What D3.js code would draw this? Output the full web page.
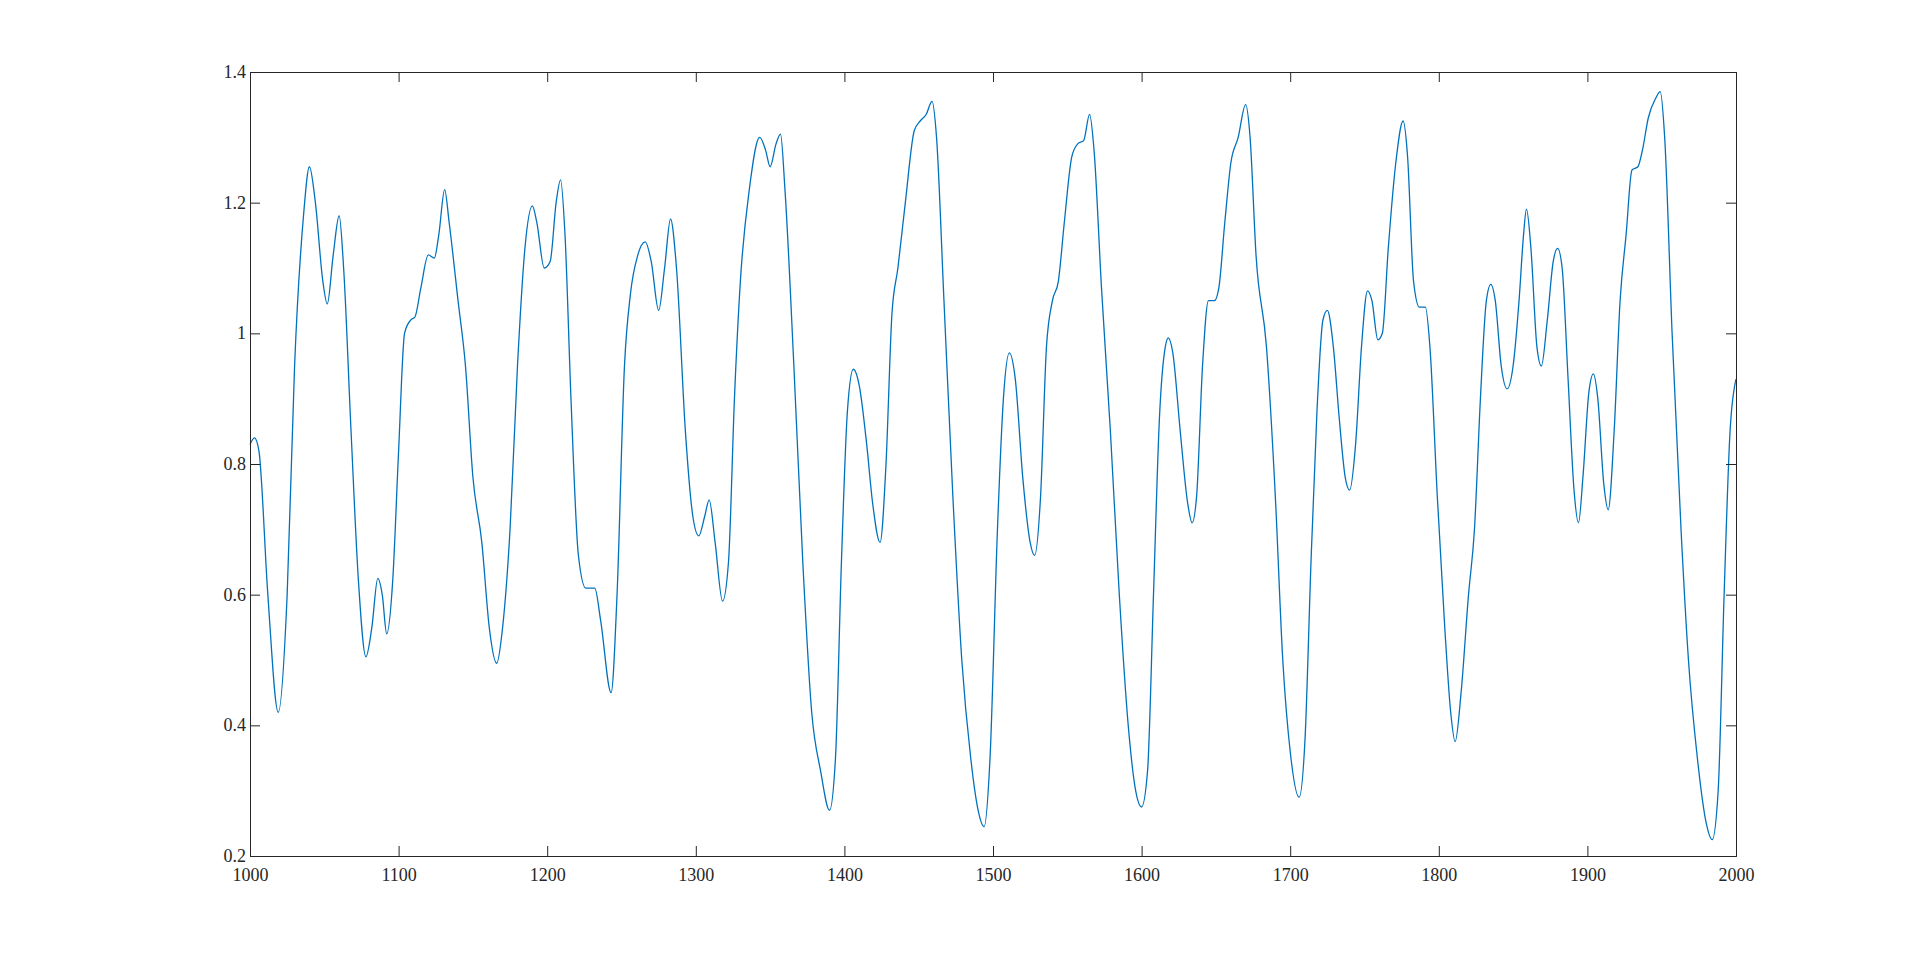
<!DOCTYPE html>
<html>
<head>
<meta charset="utf-8">
<script src="https://cdn.jsdelivr.net/npm/d3@7"></script>
<style>
  body { margin: 0; background: #fff; }
  svg text { font-family: "Liberation Serif", "DejaVu Serif", serif; font-size: 18px; fill: #262626; }
</style>
</head>
<body>
<div id="chart"></div>
<script>
// sample positions and values
const xs = [1000,1003,1006,1012,1019,1025,1030,1036,1040,1044,1049,1052,1056,1060,1063,1068,1073,1078,1082,1086,1089,1092,1096,1100,1104,1108,1111,1115,1120,1124,1127,1131,1134,1140,1145,1150,1156,1161,1166,1170,1175,1180,1185,1190,1193,1198,1202,1206,1209,1212,1216,1221,1226,1232,1236,1243,1247,1252,1256,1261,1266,1270,1275,1279,1283,1287,1293,1298,1302,1306,1309,1313,1318,1322,1326,1330,1336,1343,1347,1350,1354,1357,1360,1366,1372,1378,1384,1390,1394,1398,1402,1406,1410,1415,1419,1424,1428,1432,1436,1441,1447,1451,1455,1459,1462,1467,1473,1479,1485,1490,1494,1498,1503,1507,1511,1515,1520,1525,1528,1532,1536,1540,1544,1548,1553,1557,1561,1565,1568,1573,1579,1585,1591,1596,1600,1604,1608,1612,1616,1618,1621,1626,1631,1634,1637,1641,1645,1649,1652,1656,1660,1665,1670,1673,1677,1684,1690,1695,1700,1706,1710,1714,1718,1722,1725,1729,1733,1737,1740,1744,1748,1752,1755,1759,1762,1766,1771,1776,1779,1783,1787,1791,1794,1799,1804,1808,1811,1815,1820,1824,1828,1832,1835,1838,1842,1846,1850,1854,1857,1859,1862,1866,1869,1873,1877,1880,1883,1887,1891,1894,1897,1901,1904,1907,1911,1914,1918,1922,1926,1930,1934,1937,1941,1946,1949,1952,1957,1963,1968,1974,1980,1984,1988,1992,1996,2000];
const ys = [0.83,0.84,0.82,0.6,0.42,0.6,0.95,1.18,1.255,1.2,1.08,1.045,1.12,1.18,1.1,0.85,0.62,0.505,0.55,0.625,0.6,0.54,0.62,0.82,1.0,1.02,1.025,1.07,1.12,1.115,1.15,1.22,1.17,1.05,0.95,0.78,0.68,0.55,0.495,0.55,0.7,0.95,1.13,1.195,1.17,1.1,1.11,1.2,1.235,1.15,0.9,0.66,0.61,0.61,0.56,0.45,0.6,0.95,1.06,1.12,1.14,1.11,1.035,1.1,1.175,1.1,0.85,0.72,0.69,0.72,0.745,0.68,0.59,0.65,0.9,1.08,1.22,1.3,1.28,1.255,1.29,1.305,1.22,0.95,0.65,0.42,0.33,0.27,0.35,0.65,0.88,0.945,0.92,0.83,0.74,0.68,0.8,1.03,1.1,1.2,1.31,1.325,1.335,1.355,1.3,1.05,0.75,0.5,0.35,0.27,0.245,0.35,0.7,0.9,0.97,0.93,0.78,0.68,0.66,0.75,0.98,1.05,1.08,1.17,1.27,1.29,1.295,1.335,1.28,1.07,0.85,0.6,0.4,0.3,0.275,0.33,0.6,0.87,0.98,0.993,0.97,0.85,0.74,0.71,0.75,0.95,1.05,1.05,1.07,1.17,1.26,1.3,1.35,1.3,1.12,0.98,0.75,0.5,0.36,0.29,0.38,0.65,0.88,1.02,1.035,0.98,0.87,0.78,0.76,0.83,0.98,1.065,1.05,0.99,1.0,1.13,1.26,1.325,1.27,1.08,1.04,1.04,0.98,0.75,0.55,0.42,0.375,0.45,0.6,0.7,0.9,1.05,1.075,1.05,0.95,0.915,0.95,1.05,1.15,1.19,1.13,0.98,0.95,1.02,1.11,1.13,1.1,0.93,0.76,0.71,0.78,0.91,0.938,0.9,0.77,0.73,0.85,1.05,1.15,1.25,1.255,1.28,1.33,1.36,1.37,1.3,1.0,0.7,0.5,0.35,0.25,0.225,0.3,0.6,0.85,0.93];
const xTicks = [1000,1100,1200,1300,1400,1500,1600,1700,1800,1900,2000];
const yTicks = [0.2,0.4,0.6,0.8,1.0,1.2,1.4];

const W = 1920, H = 962;
const margin = { left: 250, right: W - 1736, top: 72, bottom: H - 856 };
const width = W - margin.left - margin.right;
const height = H - margin.top - margin.bottom;

const svg = d3.select("#chart").append("svg")
    .attr("width", W).attr("height", H);
const g = svg.append("g").attr("transform", `translate(${margin.left},${margin.top})`);

const x = d3.scaleLinear().domain([1000, 2000]).range([0, width]);
const y = d3.scaleLinear().domain([0.2, 1.4]).range([height, 0]);

const data = xs.map((v, i) => ({ x: v, y: ys[i] }));

g.append("path")
    .datum(data)
    .attr("fill", "none")
    .attr("stroke", "#0072BD")
    .attr("stroke-width", 1.3)
    .attr("d", d3.line().x(d => x(d.x)).y(d => y(d.y)).curve(d3.curveMonotoneX));

const fmtY = d => d3.format("~g")(+d.toFixed(1));
const tick = 10;

const axisBottom = g.append("g").attr("transform", `translate(0,${height})`)
    .call(d3.axisBottom(x).tickValues(xTicks).tickSize(-tick).tickPadding(5).tickFormat(d3.format("d")));
const axisTop = g.append("g")
    .call(d3.axisTop(x).tickValues(xTicks).tickSize(-tick).tickFormat(""));
const axisLeft = g.append("g")
    .call(d3.axisLeft(y).tickValues(yTicks).tickSize(-tick).tickPadding(4).tickFormat(fmtY));
const axisRight = g.append("g").attr("transform", `translate(${width},0)`)
    .call(d3.axisRight(y).tickValues(yTicks).tickSize(-tick).tickFormat(""));

[axisBottom, axisTop, axisLeft, axisRight].forEach(a => {
    a.attr("font-family", null).attr("font-size", null);
    a.select(".domain").attr("stroke", "#262626");
    a.selectAll(".tick line").attr("stroke", "#262626");
    a.selectAll("text").attr("fill", "#262626");
});
axisBottom.selectAll("text").attr("dy", "1.1em");
axisLeft.selectAll("text").attr("dy", "0.3em");
</script>
</body>
</html>
